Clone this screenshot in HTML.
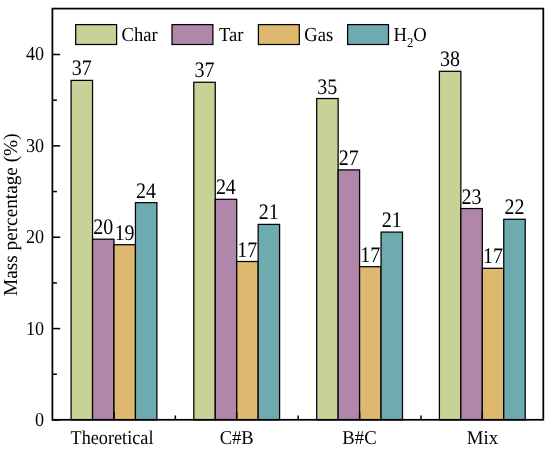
<!DOCTYPE html>
<html><head><meta charset="utf-8"><title>Mass percentage chart</title>
<style>html,body{margin:0;padding:0;background:#fff}svg{display:block}text{font-family:"Liberation Serif","Times New Roman",serif;fill:#000;text-rendering:geometricPrecision}</style></head><body>
<svg width="550" height="451" viewBox="0 0 550 451">
<rect x="0" y="0" width="550" height="451" fill="#fff"/>
<rect x="71.10" y="80.40" width="21.45" height="339.40" fill="#c6d296" stroke="#000" stroke-width="1.25"/>
<text transform="translate(81.72,75.40) scale(0.9,1)" font-size="22.2" text-anchor="middle">37</text>
<rect x="92.55" y="239.20" width="21.45" height="180.60" fill="#b086aa" stroke="#000" stroke-width="1.25"/>
<text transform="translate(103.17,234.20) scale(0.9,1)" font-size="22.2" text-anchor="middle">20</text>
<rect x="114.00" y="244.70" width="21.45" height="175.10" fill="#deb86e" stroke="#000" stroke-width="1.25"/>
<text transform="translate(124.62,239.70) scale(0.9,1)" font-size="22.2" text-anchor="middle">19</text>
<rect x="135.45" y="202.65" width="21.45" height="217.15" fill="#6eabb0" stroke="#000" stroke-width="1.25"/>
<text transform="translate(146.07,197.65) scale(0.9,1)" font-size="22.2" text-anchor="middle">24</text>
<rect x="193.80" y="82.25" width="21.45" height="337.55" fill="#c6d296" stroke="#000" stroke-width="1.25"/>
<text transform="translate(204.42,77.25) scale(0.9,1)" font-size="22.2" text-anchor="middle">37</text>
<rect x="215.25" y="199.30" width="21.45" height="220.50" fill="#b086aa" stroke="#000" stroke-width="1.25"/>
<text transform="translate(225.87,194.30) scale(0.9,1)" font-size="22.2" text-anchor="middle">24</text>
<rect x="236.70" y="261.50" width="21.45" height="158.30" fill="#deb86e" stroke="#000" stroke-width="1.25"/>
<text transform="translate(247.32,256.50) scale(0.9,1)" font-size="22.2" text-anchor="middle">17</text>
<rect x="258.15" y="224.40" width="21.45" height="195.40" fill="#6eabb0" stroke="#000" stroke-width="1.25"/>
<text transform="translate(268.77,219.40) scale(0.9,1)" font-size="22.2" text-anchor="middle">21</text>
<rect x="316.70" y="98.55" width="21.45" height="321.25" fill="#c6d296" stroke="#000" stroke-width="1.25"/>
<text transform="translate(327.33,93.55) scale(0.9,1)" font-size="22.2" text-anchor="middle">35</text>
<rect x="338.15" y="169.90" width="21.45" height="249.90" fill="#b086aa" stroke="#000" stroke-width="1.25"/>
<text transform="translate(348.78,164.90) scale(0.9,1)" font-size="22.2" text-anchor="middle">27</text>
<rect x="359.60" y="266.70" width="21.45" height="153.10" fill="#deb86e" stroke="#000" stroke-width="1.25"/>
<text transform="translate(370.23,261.70) scale(0.9,1)" font-size="22.2" text-anchor="middle">17</text>
<rect x="381.05" y="232.10" width="21.45" height="187.70" fill="#6eabb0" stroke="#000" stroke-width="1.25"/>
<text transform="translate(391.68,227.10) scale(0.9,1)" font-size="22.2" text-anchor="middle">21</text>
<rect x="439.40" y="71.30" width="21.45" height="348.50" fill="#c6d296" stroke="#000" stroke-width="1.25"/>
<text transform="translate(450.03,66.30) scale(0.9,1)" font-size="22.2" text-anchor="middle">38</text>
<rect x="460.85" y="208.55" width="21.45" height="211.25" fill="#b086aa" stroke="#000" stroke-width="1.25"/>
<text transform="translate(471.48,203.55) scale(0.9,1)" font-size="22.2" text-anchor="middle">23</text>
<rect x="482.30" y="268.30" width="21.45" height="151.50" fill="#deb86e" stroke="#000" stroke-width="1.25"/>
<text transform="translate(492.93,263.30) scale(0.9,1)" font-size="22.2" text-anchor="middle">17</text>
<rect x="503.75" y="219.25" width="21.45" height="200.55" fill="#6eabb0" stroke="#000" stroke-width="1.25"/>
<text transform="translate(514.38,214.25) scale(0.9,1)" font-size="22.2" text-anchor="middle">22</text>
<line x1="52.4" y1="419.95" x2="60.20" y2="419.95" stroke="#000" stroke-width="1.5"/>
<text transform="translate(44.10,425.90) scale(0.925,1)" font-size="19.6" text-anchor="end">0</text>
<line x1="52.4" y1="374.27" x2="56.90" y2="374.27" stroke="#000" stroke-width="1.5"/>
<line x1="52.4" y1="328.59" x2="60.20" y2="328.59" stroke="#000" stroke-width="1.5"/>
<text transform="translate(44.10,334.54) scale(0.925,1)" font-size="19.6" text-anchor="end">10</text>
<line x1="52.4" y1="282.91" x2="56.90" y2="282.91" stroke="#000" stroke-width="1.5"/>
<line x1="52.4" y1="237.23" x2="60.20" y2="237.23" stroke="#000" stroke-width="1.5"/>
<text transform="translate(44.10,243.18) scale(0.925,1)" font-size="19.6" text-anchor="end">20</text>
<line x1="52.4" y1="191.55" x2="56.90" y2="191.55" stroke="#000" stroke-width="1.5"/>
<line x1="52.4" y1="145.87" x2="60.20" y2="145.87" stroke="#000" stroke-width="1.5"/>
<text transform="translate(44.10,151.82) scale(0.925,1)" font-size="19.6" text-anchor="end">30</text>
<line x1="52.4" y1="100.19" x2="56.90" y2="100.19" stroke="#000" stroke-width="1.5"/>
<line x1="52.4" y1="54.51" x2="60.20" y2="54.51" stroke="#000" stroke-width="1.5"/>
<text transform="translate(44.10,60.46) scale(0.925,1)" font-size="19.6" text-anchor="end">40</text>
<line x1="114.00" y1="419.8" x2="114.00" y2="412.20" stroke="#000" stroke-width="1.5"/>
<line x1="175.35" y1="419.8" x2="175.35" y2="415.50" stroke="#000" stroke-width="1.5"/>
<text transform="translate(112.00,443.80) scale(0.93,1)" font-size="19.6" text-anchor="middle">Theoretical</text>
<line x1="236.70" y1="419.8" x2="236.70" y2="412.20" stroke="#000" stroke-width="1.5"/>
<line x1="298.15" y1="419.8" x2="298.15" y2="415.50" stroke="#000" stroke-width="1.5"/>
<text transform="translate(236.70,443.80) scale(0.95,1)" font-size="19.6" text-anchor="middle">C#B</text>
<line x1="359.60" y1="419.8" x2="359.60" y2="412.20" stroke="#000" stroke-width="1.5"/>
<line x1="420.95" y1="419.8" x2="420.95" y2="415.50" stroke="#000" stroke-width="1.5"/>
<text transform="translate(359.50,443.80) scale(0.955,1)" font-size="19.6" text-anchor="middle">B#C</text>
<line x1="482.30" y1="419.8" x2="482.30" y2="412.20" stroke="#000" stroke-width="1.5"/>
<text transform="translate(482.40,443.80) scale(0.96,1)" font-size="19.6" text-anchor="middle">Mix</text>
<rect x="52.4" y="8.6" width="490.90" height="411.20" fill="none" stroke="#000" stroke-width="1.75"/>
<rect x="75.7" y="24.6" width="40.9" height="19.9" fill="#c6d296" stroke="#000" stroke-width="1.25"/>
<text transform="translate(121.50,41.35) scale(0.935,1)" font-size="19.9">Char</text>
<rect x="172.0" y="24.6" width="40.9" height="19.9" fill="#b086aa" stroke="#000" stroke-width="1.25"/>
<text transform="translate(218.90,41.35) scale(0.935,1)" font-size="19.9">Tar</text>
<rect x="258.4" y="24.6" width="40.9" height="19.9" fill="#deb86e" stroke="#000" stroke-width="1.25"/>
<text transform="translate(304.30,41.35) scale(0.935,1)" font-size="19.9">Gas</text>
<rect x="347.6" y="24.6" width="40.9" height="19.9" fill="#6eabb0" stroke="#000" stroke-width="1.25"/>
<text transform="translate(393.50,41.35) scale(0.935,1)" font-size="19.9">H<tspan font-size="13.6" dy="5.2">2</tspan><tspan dy="-5.2">O</tspan></text>
<text transform="translate(17.25,214.7) rotate(-90) scale(0.975,1)" font-size="19.75" text-anchor="middle">Mass percentage (%)</text>
</svg></body></html>
